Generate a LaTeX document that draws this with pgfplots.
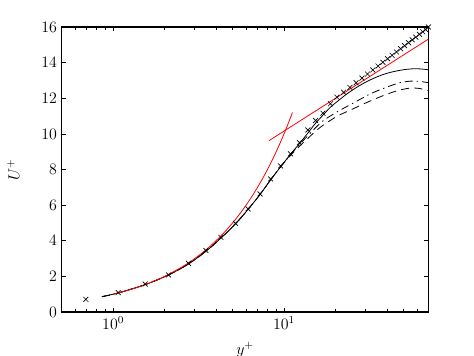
\documentclass[border=0pt]{standalone}
\usepackage{pgfplots}
\pgfplotsset{compat=1.18}
\begin{document}
\begin{tikzpicture}
\useasboundingbox (0,0) rectangle (355.5bp,267bp);
\begin{axis}[
  at={(46.3bp,33bp)}, anchor=south west,
  scale only axis, width=275bp, height=213.75bp,
  xmode=log, xmin=0.5, xmax=70, ymin=0, ymax=16,
  ytick={0,2,...,16},
  tick label style={font=\large},
  label style={font=\large},
  xlabel={$y^+$}, ylabel={$U^+$},
  xlabel style={at={(axis description cs:0.5,-0.105)}, anchor=north, inner sep=0pt},
  ylabel style={at={(axis description cs:-0.132,0.5)}, anchor=center},
  axis line style={line width=0.8pt},
  major tick length=3pt, minor tick length=2pt,
  tick style={black, line width=0.5pt},
  clip=false,
]
% solid
\addplot[black, line width=0.6pt, smooth] coordinates {
(0.86,0.86) (1.07,1.07) (1.5,1.5) (2.1,2.07) (2.76,2.7) (3.5,3.42) (4.27,4.15)
(5.2,4.95) (6.16,5.76) (7.24,6.6) (8.35,7.42) (9.55,8.15) (10.9,8.85) (12.3,9.45)
(13.8,10.05) (15.3,10.6) (16.9,11.05) (18.7,11.5) (20.7,11.85) (23,12.2) (26,12.55)
(30,12.9) (35,13.2) (40,13.4) (45,13.52) (50,13.6) (56,13.65) (62,13.65) (70,13.6)};
% dash-dot
\addplot[black, line width=0.6pt, smooth, dash pattern=on 6bp off 3bp on 1bp off 3bp] coordinates {
(0.86,0.86) (1.07,1.07) (1.5,1.5) (2.1,2.07) (2.76,2.7) (3.5,3.42) (4.27,4.15)
(5.2,4.95) (6.16,5.76) (7.24,6.6) (8.35,7.42) (9.55,8.15) (10.9,8.82) (12.3,9.4)
(13.8,9.9) (15.3,10.35) (17,10.75) (19,11.05) (21,11.3) (24,11.6) (28,11.95)
(32,12.25) (37,12.5) (42,12.7) (48,12.88) (55,12.96) (62,12.95) (70,12.87)};
% dashed
\addplot[black, line width=0.6pt, smooth, dash pattern=on 6bp off 4bp] coordinates {
(0.86,0.86) (1.07,1.07) (1.5,1.5) (2.1,2.07) (2.76,2.7) (3.5,3.42) (4.27,4.15)
(5.2,4.95) (6.16,5.76) (7.24,6.6) (8.35,7.42) (9.55,8.15) (10.9,8.78) (12.3,9.3)
(13.8,9.75) (15.3,10.15) (17,10.5) (19,10.8) (21,11.05) (24,11.3) (28,11.6)
(32,11.85) (37,12.1) (42,12.3) (48,12.47) (55,12.57) (62,12.55) (70,12.42)};
% red viscous sublayer
\addplot[red, line width=0.6pt, smooth] coordinates {
(1,1) (1.2,1.2) (1.4,1.4) (1.6,1.6) (1.8,1.8) (2,2) (2.5,2.5) (3,3) (3.5,3.5) (4,4)
(4.5,4.5) (5,5) (5.5,5.5) (6,6) (6.5,6.5) (7,7) (7.5,7.5) (8,8) (8.5,8.5) (9,9)
(9.5,9.5) (10,10) (10.5,10.5) (11,11) (11.2,11.2)};
% red log law
\addplot[red, line width=0.6pt] coordinates {(8.17,9.62) (70,15.32)};
% crosses
\addplot[black, only marks, mark=x, mark size=2.6pt, mark options={line width=0.5pt}] coordinates {
(0.692,0.71) (1.07,1.09) (1.54,1.57) (2.11,2.08) (2.76,2.73) (3.49,3.45) (4.27,4.19)
(5.2,4.98) (6.16,5.79) (7.24,6.63) (8.35,7.47) (9.55,8.2) (10.9,8.88) (12.3,9.51)
(13.8,10.22) (15.3,10.75) (16.9,11.16) (18.7,11.69) (20.4,12.06) (22.3,12.34)
(24.3,12.61) (26.4,12.87) (28.6,13.13) (30.8,13.36) (33.1,13.59) (35.5,13.81)
(37.9,14.02) (40.4,14.22) (42.9,14.41) (45.5,14.60) (48.1,14.78) (50.8,14.95)
(53.5,15.12) (56.3,15.28) (59.1,15.43) (62.0,15.59) (64.9,15.73) (67.4,15.86) (70,16.0)};
\end{axis}
\end{tikzpicture}
\end{document}
